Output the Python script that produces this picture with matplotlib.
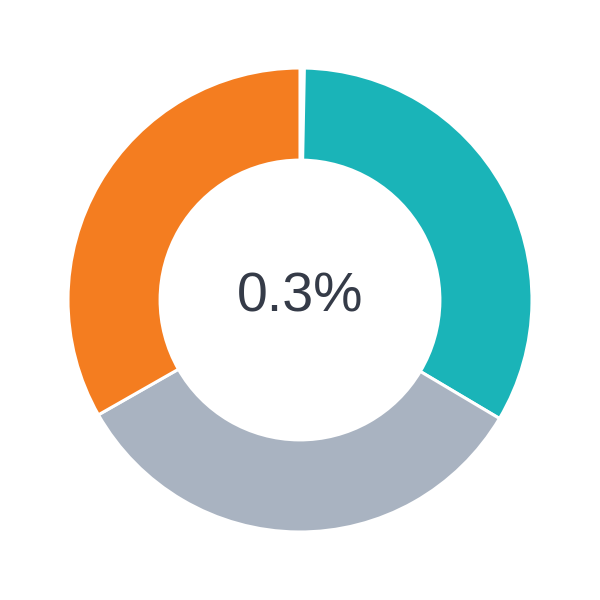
import matplotlib
matplotlib.use("Agg")
import matplotlib.pyplot as plt

labels = ["Small", "Teal", "Gray", "Orange"]
values = [0.3, 33.23, 33.23, 33.24]
colors = ["#ffffff", "#1ab4b8", "#a9b3c1", "#f47d20"]
center_text = "0.3%"

fig = plt.figure(figsize=(6, 6), dpi=100)
ax = fig.add_axes([0, 0, 1, 1])

ax.pie(values, colors=colors, startangle=90, counterclock=False,
       radius=1.0,
       wedgeprops=dict(width=0.397, edgecolor="white", linewidth=2.2))

ax.text(0, 0.01, center_text, ha="center", va="center",
        fontsize=40, color="#353b48", family="Liberation Sans")

lim = 300 / 232
ax.set_xlim(-lim, lim)
ax.set_ylim(-lim, lim)
ax.set_aspect("equal")
ax.axis("off")

fig.savefig("out.png", dpi=100)
